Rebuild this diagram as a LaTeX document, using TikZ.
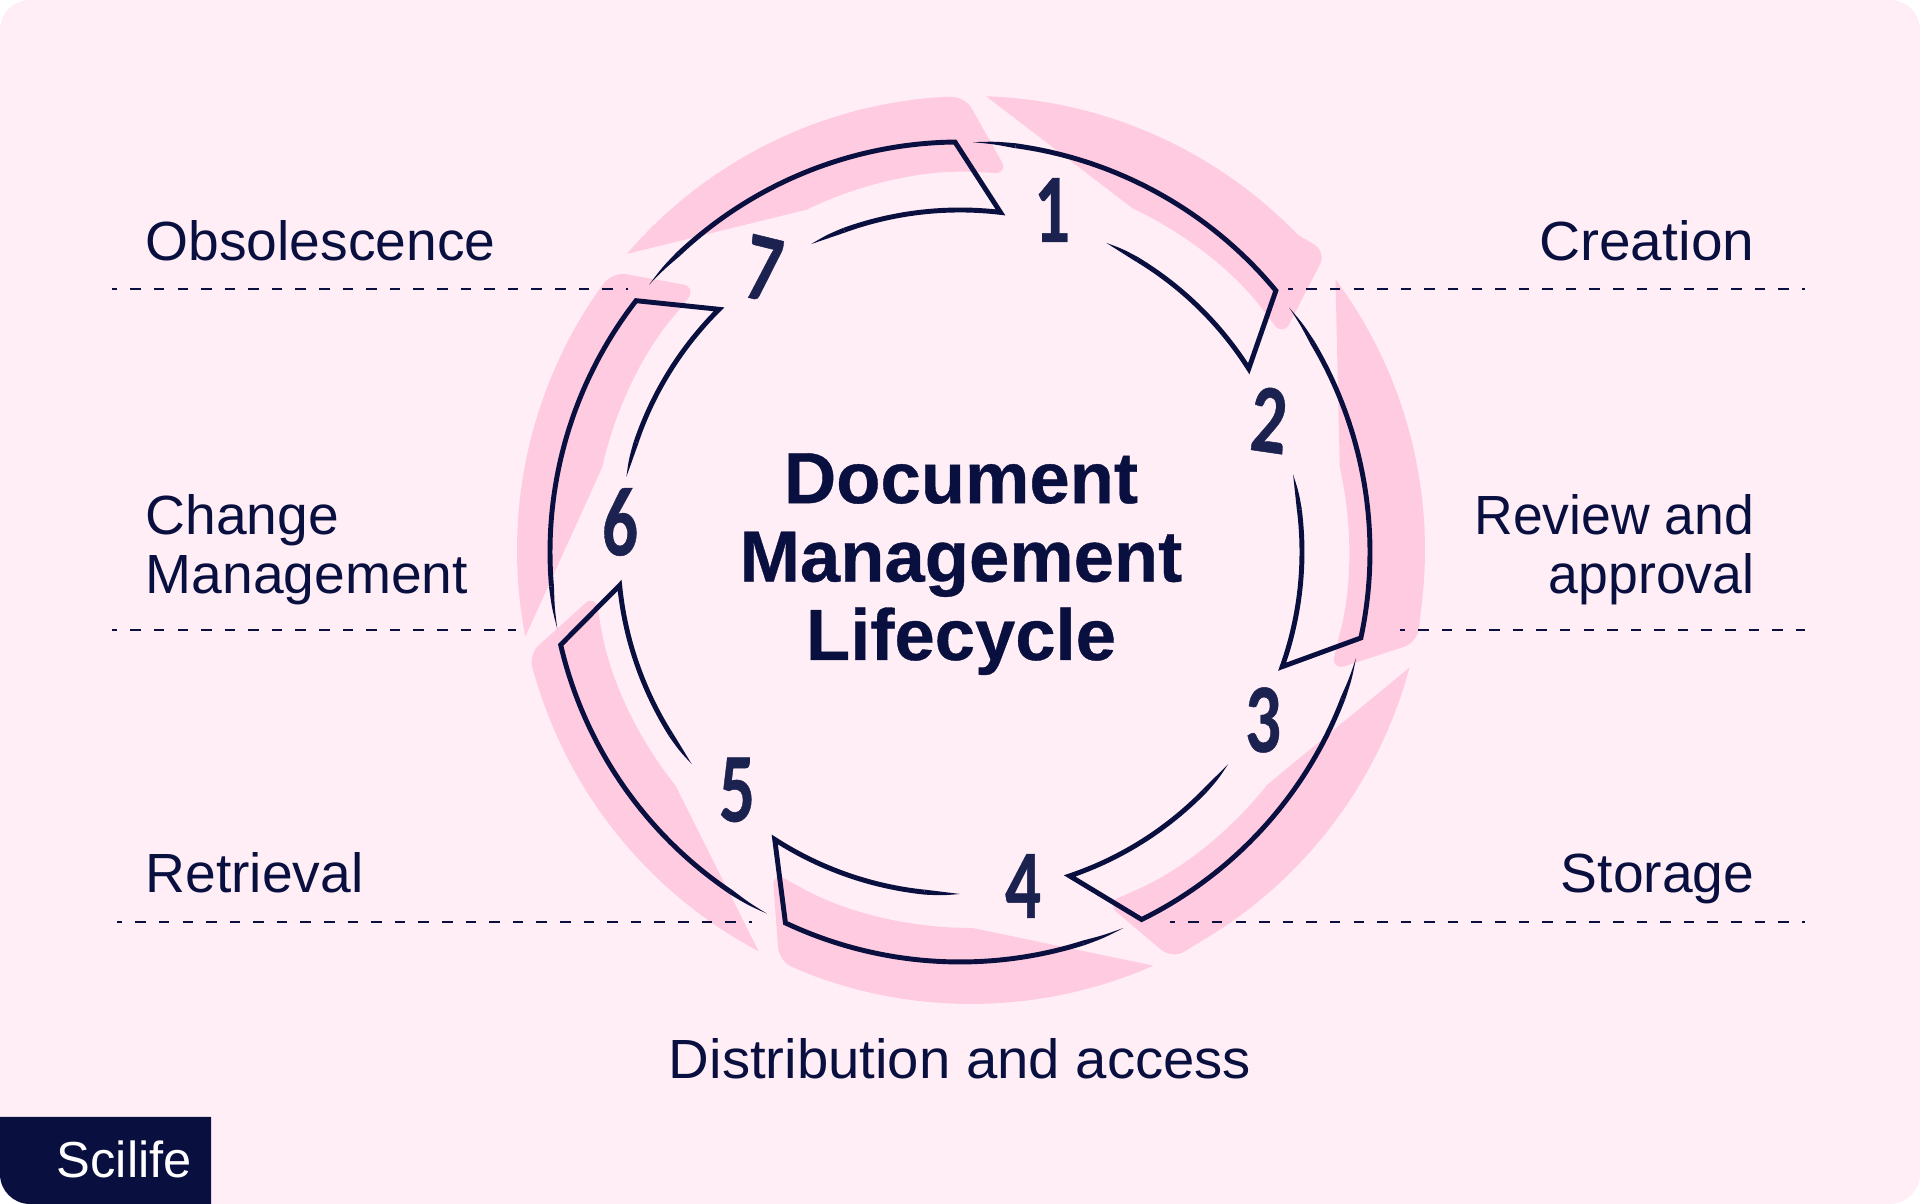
\documentclass[tikz,border=0pt]{standalone}
\usepackage{fontspec}
\setmainfont{Liberation Sans}
\newfontfamily\numfont[FakeBold=0.5]{Carlito}
\newfontfamily\titlefont[FakeBold=0.5]{Liberation Sans}
\definecolor{inkblue}{RGB}{9,16,64}
\definecolor{numblue}{RGB}{27,34,80}
\definecolor{pagepink}{RGB}{255,238,246}
\definecolor{bandpink}{RGB}{255,203,224}
% thin free end of a hand drawn line: radius, tip angle, base angle
\newcommand{\inktip}[3]{\fill[inkblue] (#2:#1) .. controls ({(#2+#3)/2}:{#1+2}) .. (#3:{#1+2.5})
    -- (#3:{#1-2.5}) .. controls ({(#2+#3)/2}:{#1-.8}) .. (#2:#1) -- cycle;}

\begin{document}
\begin{tikzpicture}[x=0.01cm,y=0.01cm,
    band/.style={fill=bandpink},
    corner/.style={rounded corners=4pt},
    ink/.style={draw=inkblue,line width=1.4pt,line join=miter},
    rule/.style={draw=inkblue,line width=0.65pt,dash pattern=on 3pt off 3.71pt,dash phase=1.5pt},
    stage/.style={text=inkblue,font=\fontsize{15.7}{16.8}\selectfont,inner sep=0pt},
    digit/.style={text=numblue,font=\numfont\bfseries\fontsize{28}{28}\selectfont,inner sep=0pt,xscale=.72}]

    % Page and logo.
    \useasboundingbox (0,0) rectangle (1920,1204);
    \fill[pagepink,rounded corners=8.5pt] (0,0) rectangle (1920,1204);
    \fill[inkblue] (0,87) -- (211,87) -- (211,0) [rounded corners=8.5pt] -- (0,0) [sharp corners] -- cycle;
    \node[anchor=base west,inner sep=0pt,text=white,font=\fontsize{14.4}{15}\selectfont] (logo) at (56,26) {Scilife};

    % Pink bands, one for each stage.
    \begin{scope}[shift={(971,654)}]
    \fill[band] (88.1:454) arc[start angle=88.1,end angle=44,radius=454] [corner]
        -- (40:464) -- (34.4:378) -- (38.4:378) [sharp corners] arc[start angle=38.4,end angle=64.7,radius=378] -- cycle;
    \fill[band] (36.6:454) arc[start angle=36.6,end angle=-7.7,radius=454] [corner]
        -- (-11.7:456) -- (-18.5:380) -- (-14.5:378) [sharp corners] arc[start angle=-14.5,end angle=12.7,radius=378] -- cycle;
    \fill[band] (-15:454) arc[start angle=-15,end angle=-59.8,radius=454] [corner]
        -- (-63.8:456) -- (-69.1:378) -- (-65.1:378) [sharp corners] arc[start angle=-65.1,end angle=-38.4,radius=378] -- cycle;
    \fill[band] (-66.3:454) arc[start angle=-66.3,end angle=-111,radius=454] [corner]
        -- (-115:454) -- (-121.7:378) -- (-117.7:378) [sharp corners] arc[start angle=-117.7,end angle=-89.8,radius=378] -- cycle;
    \fill[band] (-117.9:454) arc[start angle=-117.9,end angle=-162.7,radius=454] [corner]
        -- (-166.7:455) -- (-173.3:378) -- (-169.3:378) [sharp corners] arc[start angle=-169.3,end angle=-141.4,radius=378] -- cycle;
    \fill[band] (191:454) arc[start angle=191,end angle=146.2,radius=454] [corner]
        -- (142.2:454) -- (136.2:380) -- (140.2:378) [sharp corners] arc[start angle=140.2,end angle=167.4,radius=378] -- cycle;
    \fill[band] (139.3:454) arc[start angle=139.3,end angle=94.8,radius=454] [corner]
        -- (90.8:454) -- (84.3:378) -- (88.3:378) [sharp corners] arc[start angle=88.3,end angle=115.8,radius=378] -- cycle;
    \end{scope}

    % Dashed rules.
    \coordinate (obsL) at (112,915);  \coordinate (obsR) at (628,915);
    \coordinate (creL) at (1288,915); \coordinate (creR) at (1805,915);
    \coordinate (chaL) at (112,574);  \coordinate (chaR) at (516,574);
    \coordinate (revL) at (1400,574); \coordinate (revR) at (1805,574);
    \coordinate (retL) at (117,282);  \coordinate (retR) at (752,282);
    \coordinate (stoL) at (1170,282); \coordinate (stoR) at (1805,282);
    \draw[rule] (obsL) -- (obsR);
    \draw[rule] (creL) -- (creR);
    \draw[rule] (chaL) -- (chaR);
    \draw[rule] (revL) -- (revR);
    \draw[rule] (retL) -- (retR);
    \draw[rule] (stoL) -- (stoR);

    % Ink arrows.
    \begin{scope}[shift={(960,652)}]
    \draw[ink] (82.2:410) arc[start angle=82.2,end angle=39.6,radius=410]
        -- (32.4:342) arc[start angle=32.4,end angle=58.7,radius=342];
    \inktip{410}{88.2}{82.2} \inktip{342}{64.7}{58.7}
    \draw[ink] (30.6:410) arc[start angle=30.6,end angle=-12.1,radius=410]
        -- (-19.6:342) arc[start angle=-19.6,end angle=7.1,radius=342];
    \inktip{410}{36.6}{30.6} \inktip{342}{13.1}{7.1}
    \draw[ink] (-21:410) arc[start angle=-21,end angle=-63.7,radius=410]
        -- (-71.3:342) arc[start angle=-71.3,end angle=-44.4,radius=342];
    \inktip{410}{-15}{-21} \inktip{342}{-38.4}{-44.4}
    \draw[ink] (-72.5:410) arc[start angle=-72.5,end angle=-115.2,radius=410]
        -- (-122.8:342) arc[start angle=-122.8,end angle=-96,radius=342];
    \inktip{410}{-66.5}{-72.5} \inktip{342}{-90}{-96}
    \draw[ink] (-124.1:410) arc[start angle=-124.1,end angle=-166.9,radius=410]
        -- (-174.4:342) arc[start angle=-174.4,end angle=-147.7,radius=342];
    \inktip{410}{-118.1}{-124.1} \inktip{342}{-141.7}{-147.7}
    \draw[ink] (-175.2:410) arc[start angle=-175.2,end angle=-217.8,radius=410]
        -- (-225.2:342) arc[start angle=-225.2,end angle=-198.7,radius=342];
    \inktip{410}{-169.2}{-175.2} \inktip{342}{-192.7}{-198.7}
    \draw[ink] (133.3:410) arc[start angle=133.3,end angle=90.7,radius=410]
        -- (83.2:342) arc[start angle=83.2,end angle=109.8,radius=342];
    \inktip{410}{139.3}{133.3} \inktip{342}{115.8}{109.8}
    \end{scope}

    % Numbers.
    \node[digit] (n1) at (1052,994) {1};
    \node[digit,rotate=-6] (n2) at (1269,784) {2};
    \node[digit] (n3) at (1263,484) {3};
    \node[digit] (n4) at (1023,318) {4};
    \node[digit] (n5) at (737,414) {5};
    \node[digit] (n6) at (620,682) {6};
    \node[digit,rotate=-10] (n7) at (764,935) {7};

    % Labels.
    \node[stage,anchor=base west] (obs) at (145,943) {Obsolescence};
    \node[stage,anchor=base east,xscale=1.03] (cre) at (1755,943) {Creation};
    \node[stage,anchor=base west,align=left] (cha) at (145,610) {Change\\Management};
    \node[stage,anchor=base east,align=right,xscale=.97] (rev) at (1755,610) {Review and\\approval};
    \node[stage,anchor=base west] (ret) at (145,311) {Retrieval};
    \node[stage,anchor=base east] (sto) at (1755,311) {Storage};
    \node[stage,anchor=base,xscale=1.02] (dis) at (960,125) {Distribution and access};
    \node[anchor=base,inner sep=0pt,align=center,text=inkblue,font=\titlefont\bfseries\fontsize{20.6}{22.3}\selectfont] (title) at (961,544)
        {Document\\Management\\Lifecycle};
\end{tikzpicture}
\end{document}
